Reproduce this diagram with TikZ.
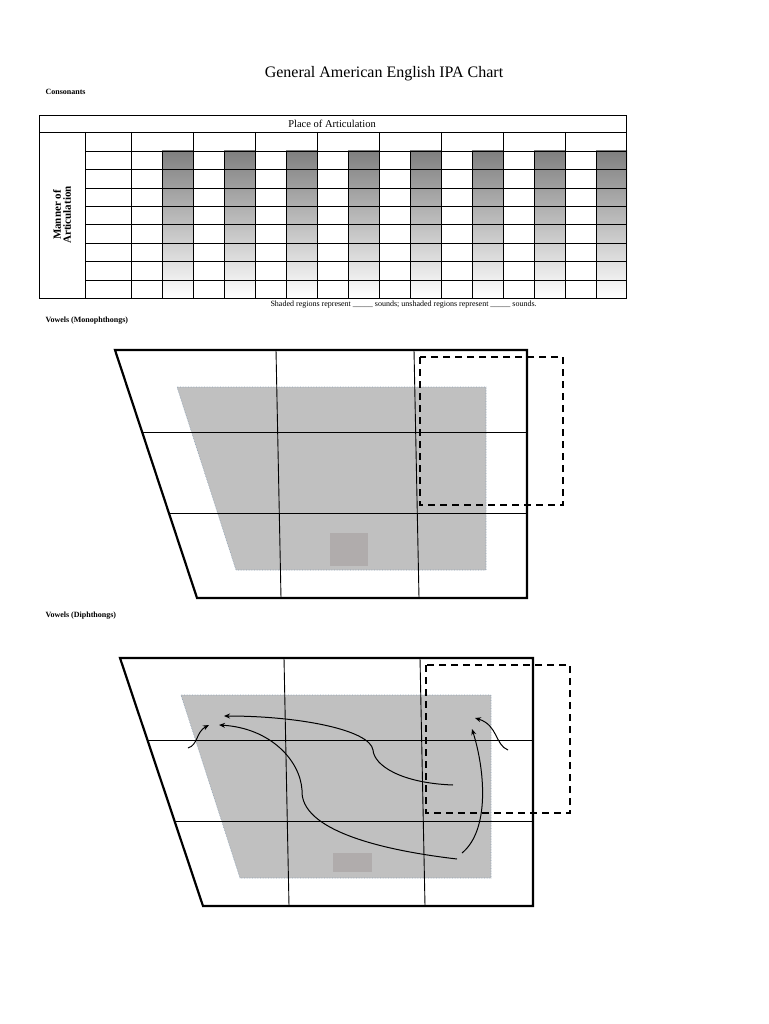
\documentclass[tikz,border=0pt]{standalone}
\usepackage{fontspec}
\setmainfont{Liberation Serif}
\usetikzlibrary{arrows.meta}
\definecolor{shade}{RGB}{192,192,192}
\definecolor{dark}{RGB}{176,172,172}
\tikzset{
 cell/.style={draw=black,line width=0.8pt},
 frame/.style={draw=black,line width=2.2pt},
 grid/.style={draw=black,line width=0.9pt},
 region/.style={fill=shade,draw={rgb,255:red,140;green,160;blue,180},densely dotted,line width=0.6pt},
 box/.style={draw=black,dashed,dash pattern=on 7pt off 5pt,line width=1.8pt},
 arr/.style={draw=black,line width=1pt,-{Stealth[length=6pt,width=5pt]}},
 lbl/.style={font=\bfseries\fontsize{8}{9}\selectfont,anchor=west}
}
\begin{document}
\begin{tikzpicture}[x=1pt,y=-1pt]
\useasboundingbox (0,0) rectangle (768,1024);
\fill[white] (0,0) rectangle (768,1024);
\node (title) at (384,74) {\fontsize{16}{18}\selectfont General American English IPA Chart};
\node[lbl] (cons) at (42,92) {Consonants};
% table
\foreach \i in {0,...,7} {
  \fill[shade] ({162+62*\i},151) rectangle ({193+62*\i},298);
}
\draw[cell] (39,115) rectangle (626,298);
\draw[cell] (39,132) -- (626,132);
\draw[cell] (85,132) -- (85,298);
\foreach \y in {151,169.5,188,206,224.5,243,261.5,280} \draw[cell] (85,\y) -- (626,\y);
\foreach \x in {131,193,255,317,379,441,503,565} \draw[cell] (\x,132) -- (\x,298);
\foreach \x in {162,224,286,348,410,472,534,596} \draw[cell] (\x,151) -- (\x,298);
\node (place) at (332,123.5) {\fontsize{10.5}{12}\selectfont Place of Articulation};
\node[rotate=90,align=center,font=\bfseries\fontsize{11}{12}\selectfont] (manner) at (62,215) {Manner of\\[-2pt] Articulation};
\node[anchor=west,font=\fontsize{8}{9}\selectfont] (note) at (267,305) {Shaded regions represent \_\_\_\_\_ sounds; unshaded regions represent \_\_\_\_\_ sounds.};
\node[lbl] (mono) at (42,321) {Vowels (Monophthongs)};
% monophthongs
\draw[region] (177,387) -- (486,387) -- (486,570) -- (236,570) -- cycle;
\fill[dark] (330,533) rectangle (368,566);
\draw[grid] (276,350) -- (281,598);
\draw[grid] (414,350) -- (419,598);
\draw[grid] (143,432) -- (527,432);
\draw[grid] (170,513) -- (527,513);
\draw[frame] (115,350) -- (527,350) -- (527,598) -- (197,598) -- cycle;
\draw[box] (420,357) rectangle (563,505);
\node[lbl] (diph) at (42,616) {Vowels (Diphthongs)};
% diphthongs
\draw[region] (181,695) -- (491,695) -- (491,878) -- (240,878) -- cycle;
\fill[dark] (333,853) rectangle (372,872);
\draw[grid] (284,658) -- (289,906);
\draw[grid] (420,658) -- (425,906);
\draw[grid] (148,740) -- (533,740);
\draw[grid] (175,821) -- (533,821);
\draw[frame] (120,658) -- (533,658) -- (533,906) -- (203,906) -- cycle;
\draw[box] (426,665) rectangle (570,813);
\coordinate (a1s) at (453,785); \coordinate (a1e) at (224,716);
\coordinate (a2s) at (457,859); \coordinate (a2e) at (219,725);
\coordinate (a3s) at (462,853); \coordinate (a3e) at (472,729);
\coordinate (a4s) at (188,748); \coordinate (a4e) at (209,725);
\coordinate (a5s) at (508,750); \coordinate (a5e) at (475,718);
\draw[arr] (a1s) .. controls (400,783) and (374,765) .. (373,750) .. controls (370,730) and (300,716) .. (a1e);
\draw[arr] (a2s) .. controls (380,850) and (300,830) .. (302,790) .. controls (300,760) and (270,728) .. (a2e);
\draw[arr] (a3s) .. controls (490,830) and (485,770) .. (a3e);
\draw[arr] (a4s) .. controls (198,745) and (196,732) .. (a4e);
\draw[arr] (a5s) .. controls (495,745) and (498,725) .. (a5e);
\end{tikzpicture}
\end{document}
